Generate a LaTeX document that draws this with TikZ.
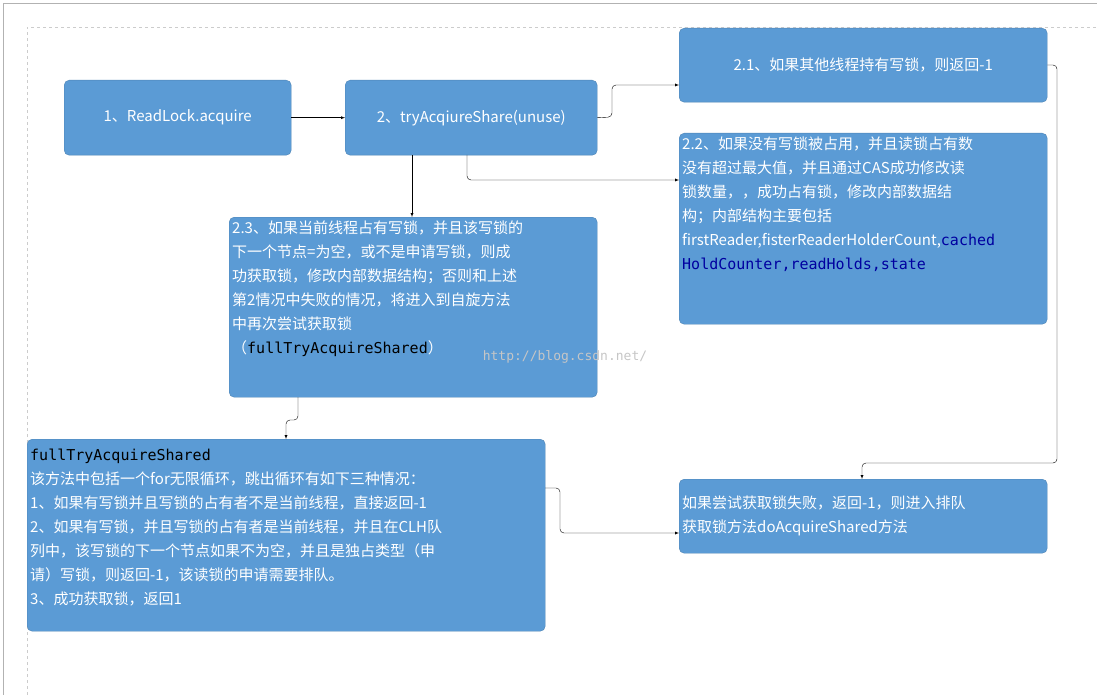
\documentclass[tikz,border=0pt]{standalone}
\usepackage{fontspec}
\setmainfont{Noto Sans CJK SC}
\setmonofont{DejaVu Sans Mono}
\usetikzlibrary{positioning}
\definecolor{boxblue}{HTML}{5B9BD5}
\definecolor{codeblue}{HTML}{0000A0}
\tikzset{
  box/.style={draw=boxblue!85!black, fill=boxblue, rounded corners=5pt, text=white, anchor=north west, inner sep=3pt, font=\fontsize{15}{24}\selectfont},
  flow/.style={-latex, thin, rounded corners=4pt}
}
\begin{document}
\begin{tikzpicture}[x=1pt,y=-1pt]
\useasboundingbox (0,0) rectangle (1097,695);
\draw[gray!60] (3,695)--(3,3)--(1097,3);
\draw[gray!40, dashed] (27,695)--(27,27)--(1097,27);

% boxes
\node[box, minimum width=227, minimum height=75, align=center] (acq) at (64,80) {1、ReadLock.acquire};
\node[box, minimum width=252, minimum height=75, align=center] (try) at (345,80) {2、tryAcqiureShare(unuse)};
\node[box, minimum width=368, minimum height=74, align=center] (other) at (679,28) {2.1、如果其他线程持有写锁，则返回-1};
\node[box, minimum width=368, minimum height=191] (nolock) at (679,133) {\parbox[t][183pt][t]{362pt}{2.2、如果没有写锁被占用，并且读锁占有数\\没有超过最大值，并且通过CAS成功修改读\\锁数量，，成功占有锁，修改内部数据结\\构；内部结构主要包括\\firstReader,fisterReaderHolderCount,{\ttfamily\color{codeblue}cached}\\{\ttfamily\color{codeblue}HoldCounter,readHolds,state}}};
\node[box, minimum width=368, minimum height=180] (cur) at (229,217) {\parbox[t][172pt][t]{362pt}{2.3、如果当前线程占有写锁，并且该写锁的\\下一个节点=为空，或不是申请写锁，则成\\功获取锁，修改内部数据结构；否则和上述\\第2情况中失败的情况，将进入到自旋方法\\中再次尝试获取锁\\（{\ttfamily\color{black}fullTryAcquireShared}）}};
\node[box, minimum width=518, minimum height=192] (full) at (27,439) {\parbox[t][184pt][t]{512pt}{\vspace{6pt}{\ttfamily\color{black}fullTryAcquireShared}\\该方法中包括一个for无限循环，跳出循环有如下三种情况：\\1、如果有写锁并且写锁的占有者不是当前线程，直接返回-1\\2、如果有写锁，并且写锁的占有者是当前线程，并且在CLH队\\列中，该写锁的下一个节点如果不为空，并且是独占类型（申\\请）写锁，则返回-1，该读锁的申请需要排队。\\3、成功获取锁，返回1}};
\node[box, minimum width=368, minimum height=74] (fail) at (679,479) {\parbox{362pt}{如果尝试获取锁失败，返回-1，则进入排队\\获取锁方法doAcquireShared方法}};
\node[text=gray!45, font=\ttfamily\fontsize{13}{13}\selectfont] (mark) at (565,357) {http://blog.csdn.net/};

% connectors
\draw[flow] (acq.east) -- (try.west);
\draw[flow] (try.east) -- (612,117) -- (612,85) -- (other.west |- 0,85);
\draw[flow] (467,155) -- (467,180) -- (nolock.west |- 0,180);
\draw[flow] (412,155) -- (412,217);
\draw[flow] (298,397) -- (298,420) -- (286,420) -- (286,439);
\draw[flow] (545,488) -- (560,488) -- (560,533) -- (fail.west |- 0,533);
\draw[flow] (other.east |- 0,65) -- (1057,65) -- (1057,463) -- (862,463) -- (862,479);
\end{tikzpicture}
\end{document}
